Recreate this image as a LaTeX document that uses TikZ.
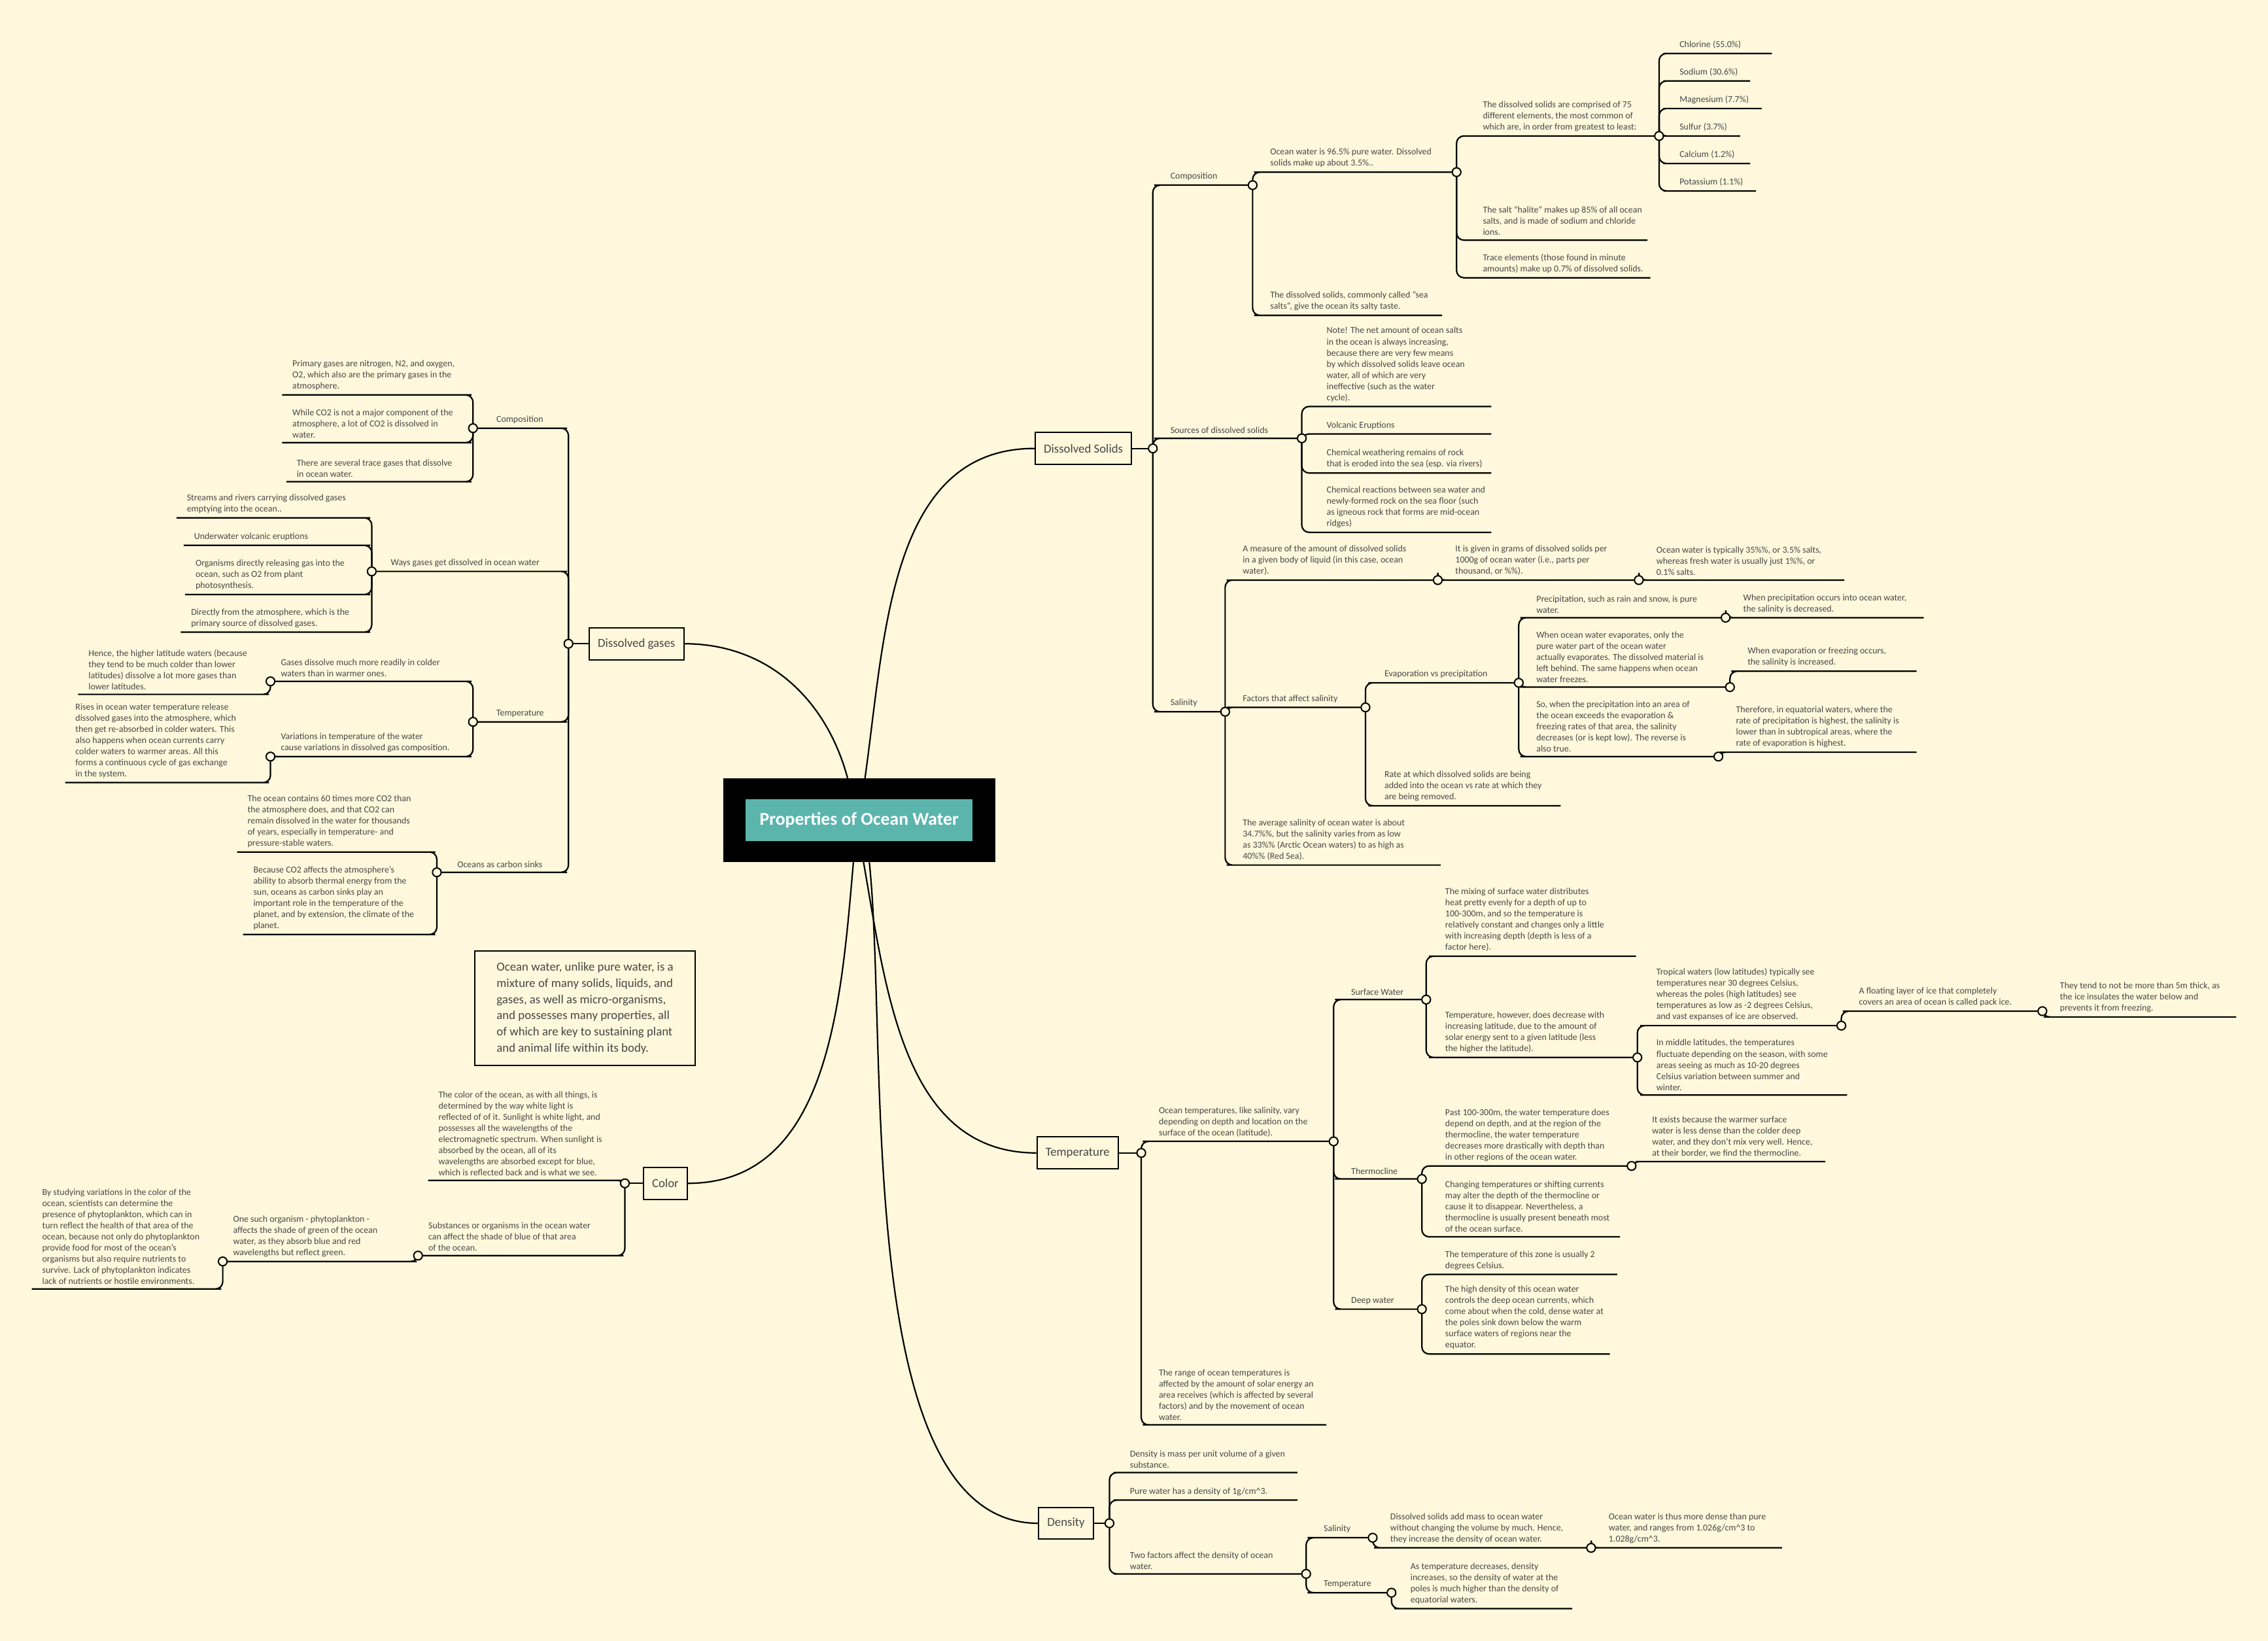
\documentclass[tikz,border=0pt]{standalone}
\usepackage{fontspec}
\setmainfont{Carlito}
\definecolor{paper}{HTML}{FFF8DC}
\definecolor{ink}{HTML}{474747}
\definecolor{teal}{HTML}{5BB5AD}
\tikzset{
  br/.style={line width=1pt,rounded corners=5pt},
  txt/.style={inner sep=0pt,align=left,text=ink,font=\fontsize{6.3}{7.7}\selectfont},
  topic/.style={draw,line width=0.9pt,fill=paper,minimum height=22pt,inner xsep=6pt,text=ink,font=\fontsize{8.5}{10}\selectfont},
  junc/.style={circle,draw,line width=0.9pt,fill=paper,inner sep=0pt,minimum size=6pt},
  main/.style={line width=1pt}
}
% right-hand branch: name, parent, start x, end x, y, text
\newcommand\rbr[6]{%
  \coordinate (#1-s) at (#3,#5);
  \coordinate (#1) at (#4,#5);
  \node[txt,anchor=south west] (#1-t) at (#3+6,#5-3) {#6};
  \draw[br] (#2) |- (#1-s) -- (#1);}
% left-hand branch: name, parent, start x, end x, y, text
\newcommand\lbr[6]{%
  \coordinate (#1) at (#3,#5);
  \coordinate (#1-s) at (#4,#5);
  \node[txt,anchor=south west] (#1-t) at (#3+7,#5-3) {#6};
  \draw[br] (#2) |- (#1-s) -- (#1);}
\begin{document}
\begin{tikzpicture}[x=1pt,y=-1pt]
\fill[paper] (0,0) rectangle (1568,1134.4);
\useasboundingbox (0,0) rectangle (1568,1134.4);

% root
\node[fill=black,minimum width=188pt,minimum height=58pt] (root) at (594,567) {};
\node[fill=teal,minimum width=157pt,minimum height=29pt,text=white,font=\fontsize{12.5}{14}\selectfont\bfseries] (title) at (594,567) {Properties of Ocean Water};
\coordinate (r-ds) at (598,538);
\coordinate (r-dg) at (586,538);
\coordinate (r-cl) at (590,596);
\coordinate (r-tp) at (597,596);
\coordinate (r-dn) at (601,596);

% main topics
\node[topic] (ds) at (749,310) {Dissolved Solids};
\node[topic] (tp) at (745,797) {Temperature};
\node[topic] (dn) at (737,1053) {Density};
\node[topic] (dg) at (440,445) {Dissolved gases};
\node[topic] (cl) at (460,818) {Color};
\draw[main] (r-ds) to[out=82,in=180] (ds.west);
\draw[main] (r-dg) to[out=105,in=0] (dg.east);
\draw[main] (r-cl) to[out=-95,in=0] (cl.east);
\draw[main] (r-tp) to[out=-80,in=180] (tp.west);
\draw[main] (r-dn) to[out=-84,in=180,looseness=0.7] (dn.west);
\coordinate (ds-j) at (797,310); \draw[br] (ds) -- (ds-j);
\coordinate (tp-j) at (789,797); \draw[br] (tp) -- (tp-j);
\coordinate (dn-j) at (767,1053); \draw[br] (dn) -- (dn-j);
\coordinate (dg-j) at (393,445); \draw[br] (dg) -- (dg-j);
\coordinate (cl-j) at (432,818); \draw[br] (cl) -- (cl-j);

% dissolved solids
\rbr{dsc}{ds-j}{803}{866}{128}{Composition}
\rbr{dsc1}{dsc}{872}{1007}{119}{Ocean water is 96.5\% pure water. Dissolved\\solids make up about 3.5\%..}
\rbr{dsc11}{dsc1}{1019}{1147}{94}{The dissolved solids are comprised of 75\\different elements, the most common of\\which are, in order from greatest to least:}
\rbr{el1}{dsc11}{1155}{1225}{37}{Chlorine (55.0\%)}
\rbr{el2}{dsc11}{1155}{1210}{56}{Sodium (30.6\%)}
\rbr{el3}{dsc11}{1155}{1218}{75}{Magnesium (7.7\%)}
\rbr{el4}{dsc11}{1155}{1203}{94}{Sulfur (3.7\%)}
\rbr{el5}{dsc11}{1155}{1210}{113}{Calcium (1.2\%)}
\rbr{el6}{dsc11}{1155}{1214}{132}{Potassium (1.1\%)}
\rbr{dsc12}{dsc1}{1019}{1139}{166}{The salt "halite" makes up 85\% of all ocean\\salts, and is made of sodium and chloride\\ions.}
\rbr{dsc13}{dsc1}{1019}{1141}{192}{Trace elements (those found in minute\\amounts) make up 0.7\% of dissolved solids.}
\rbr{dsc2}{dsc}{872}{997}{218}{The dissolved solids, commonly called "sea\\salts", give the ocean its salty taste.}
\rbr{dss}{ds-j}{803}{900}{303}{Sources of dissolved solids}
\rbr{dss1}{dss}{911}{1031}{281}{Note! The net amount of ocean salts\\in the ocean is always increasing,\\because there are very few means\\by which dissolved solids leave ocean\\water, all of which are very\\ineffective (such as the water\\cycle).}
\rbr{dss2}{dss}{911}{1031}{300}{Volcanic Eruptions}
\rbr{dss3}{dss}{911}{1031}{327}{Chemical weathering remains of rock\\that is eroded into the sea (esp. via rivers)}
\rbr{dss4}{dss}{911}{1031}{368}{Chemical reactions between sea water and\\newly-formed rock on the sea floor (such\\as igneous rock that forms are mid-ocean\\ridges)}
\rbr{dsl}{ds-j}{803}{847}{492}{Salinity}
\rbr{dsl1}{dsl}{853}{994}{401}{A measure of the amount of dissolved solids\\in a given body of liquid (in this case, ocean\\water).}
\rbr{dsl11}{dsl1}{1000}{1133}{401}{It is given in grams of dissolved solids per\\1000g of ocean water (i.e., parts per\\thousand, or \%\%).}
\rbr{dsl111}{dsl11}{1139}{1275}{401}{Ocean water is typically 35\%\%, or 3.5\% salts,\\whereas fresh water is usually just 1\%\%, or\\0.1\% salts.}
\rbr{dsl2}{dsl}{853}{944}{489}{Factors that affect salinity}
\rbr{dsl21}{dsl2}{951}{1050}{472}{Evaporation vs precipitation}
\rbr{ep1}{dsl21}{1056}{1193}{427}{Precipitation, such as rain and snow, is pure\\water.}
\rbr{ep11}{ep1}{1199}{1330}{427}{When precipitation occurs into ocean water,\\the salinity is decreased.}
\rbr{ep2}{dsl21}{1056}{1196}{475}{When ocean water evaporates, only the\\pure water part of the ocean water\\actually evaporates. The dissolved material is\\left behind. The same happens when ocean\\water freezes.}
\rbr{ep21}{ep2}{1202}{1325}{464}{When evaporation or freezing occurs,\\the salinity is increased.}
\rbr{ep3}{dsl21}{1056}{1188}{523}{So, when the precipitation into an area of\\the ocean exceeds the evaporation \&\\freezing rates of that area, the salinity\\decreases (or is kept low). The reverse is\\also true.}
\rbr{ep31}{ep3}{1194}{1325}{520}{Therefore, in equatorial waters, where the\\rate of precipitation is highest, the salinity is\\lower than in subtropical areas, where the\\rate of evaporation is highest.}
\rbr{dsl22}{dsl2}{951}{1079}{557}{Rate at which dissolved solids are being\\added into the ocean vs rate at which they\\are being removed.}
\rbr{dsl3}{dsl}{853}{996}{598}{The average salinity of ocean water is about\\34.7\%\%, but the salinity varies from as low\\as 33\%\% (Arctic Ocean waters) to as high as\\40\%\% (Red Sea).}

% temperature
\rbr{tp1}{tp-j}{795}{922}{789}{Ocean temperatures, like salinity, vary\\depending on depth and location on the\\surface of the ocean (latitude).}
\rbr{sw}{tp1}{928}{986}{691}{Surface Water}
\rbr{sw1}{sw}{993}{1131}{661}{The mixing of surface water distributes\\heat pretty evenly for a depth of up to\\100-300m, and so the temperature is\\relatively constant and changes only a little\\with increasing depth (depth is less of a\\factor here).}
\rbr{sw2}{sw}{993}{1132}{731}{Temperature, however, does decrease with\\increasing latitude, due to the amount of\\solar energy sent to a given latitude (less\\the higher the latitude).}
\rbr{sw21}{sw2}{1139}{1273}{709}{Tropical waters (low latitudes) typically see\\temperatures near 30 degrees Celsius,\\whereas the poles (high latitudes) see\\temperatures as low as -2 degrees Celsius,\\and vast expanses of ice are observed.}
\rbr{sw211}{sw21}{1279}{1412}{699}{A floating layer of ice that completely\\covers an area of ocean is called pack ice.}
\rbr{sw2111}{sw211}{1418}{1546}{703}{They tend to not be more than 5m thick, as\\the ice insulates the water below and\\prevents it from freezing.}
\rbr{sw22}{sw2}{1139}{1277}{757}{In middle latitudes, the temperatures\\fluctuate depending on the season, with some\\areas seeing as much as 10-20 degrees\\Celsius variation between summer and\\winter.}
\rbr{th}{tp1}{928}{983}{815}{Thermocline}
\rbr{th1}{th}{993}{1128}{806}{Past 100-300m, the water temperature does\\depend on depth, and at the region of the\\thermocline, the water temperature\\decreases more drastically with depth than\\in other regions of the ocean water.}
\rbr{th11}{th1}{1136}{1262}{803}{It exists because the warmer surface\\water is less dense than the colder deep\\water, and they don't mix very well. Hence,\\at their border, we find the thermocline.}
\rbr{th2}{th}{993}{1120}{855}{Changing temperatures or shifting currents\\may alter the depth of the thermocline or\\cause it to disappear. Nevertheless, a\\thermocline is usually present beneath most\\of the ocean surface.}
\rbr{dw}{tp1}{928}{983}{905}{Deep water}
\rbr{dw1}{dw}{993}{1118}{881}{The temperature of this zone is usually 2\\degrees Celsius.}
\rbr{dw2}{dw}{993}{1113}{936}{The high density of this ocean water\\controls the deep ocean currents, which\\come about when the cold, dense water at\\the poles sink down below the warm\\surface waters of regions near the\\equator.}
\rbr{tp2}{tp-j}{795}{917}{985}{The range of ocean temperatures is\\affected by the amount of solar energy an\\area receives (which is affected by several\\factors) and by the movement of ocean\\water.}

% density
\rbr{dn1}{dn-j}{775}{897}{1018}{Density is mass per unit volume of a given\\substance.}
\rbr{dn2}{dn-j}{775}{897}{1037}{Pure water has a density of 1g/cm\textasciicircum3.}
\rbr{dn3}{dn-j}{775}{903}{1088}{Two factors affect the density of ocean\\water.}
\rbr{dn31}{dn3}{909}{949}{1063}{Salinity}
\rbr{dn311}{dn31}{955}{1100}{1070}{Dissolved solids add mass to ocean water\\without changing the volume by much. Hence,\\they increase the density of ocean water.}
\rbr{dn3111}{dn311}{1106}{1232}{1070}{Ocean water is thus more dense than pure\\water, and ranges from 1.026g/cm\textasciicircum3 to\\1.028g/cm\textasciicircum3.}
\rbr{dn32}{dn3}{909}{962}{1101}{Temperature}
\rbr{dn321}{dn32}{969}{1087}{1112}{As temperature decreases, density\\increases, so the density of water at the\\poles is much higher than the density of\\equatorial waters.}

% dissolved gases
\lbr{dgc}{dg-j}{327}{387}{296}{\hspace{9pt}Composition}
\lbr{dgc1}{dgc}{195}{321}{273}{Primary gases are nitrogen, N2, and oxygen,\\O2, which also are the primary gases in the\\atmosphere.}
\lbr{dgc2}{dgc}{195}{321}{306}{While CO2 is not a major component of the\\atmosphere, a lot of CO2 is dissolved in\\water.}
\lbr{dgc3}{dgc}{198}{321}{333}{There are several trace gases that dissolve\\in ocean water.}
\lbr{dgw}{dg-j}{257}{387}{395}{\hspace{6pt}Ways gases get dissolved in ocean water}
\lbr{dgw1}{dgw}{122}{251}{358}{Streams and rivers carrying dissolved gases\\emptying into the ocean..}
\lbr{dgw2}{dgw}{127}{251}{377}{Underwater volcanic eruptions}
\lbr{dgw3}{dgw}{128}{251}{411}{Organisms directly releasing gas into the\\ocean, such as O2 from plant\\photosynthesis.}
\lbr{dgw4}{dgw}{125}{251}{437}{Directly from the atmosphere, which is the\\primary source of dissolved gases.}
\lbr{dgt}{dg-j}{327}{387}{499}{\hspace{9pt}Temperature}
\lbr{dgt1}{dgt}{187}{321}{471}{Gases dissolve much more readily in colder\\waters than in warmer ones.}
\lbr{dgt11}{dgt1}{54}{181}{480}{Hence, the higher latitude waters (because\\they tend to be much colder than lower\\latitudes) dissolve a lot more gases than\\lower latitudes.}
\lbr{dgt2}{dgt}{187}{321}{523}{Variations in temperature of the water\\cause variations in dissolved gas composition.}
\lbr{dgt21}{dgt2}{45}{181}{541}{Rises in ocean water temperature release\\dissolved gases into the atmosphere, which\\then get re-absorbed in colder waters. This\\also happens when ocean currents carry\\colder waters to warmer areas. All this\\forms a continuous cycle of gas exchange\\in the system.}
\lbr{dgo}{dg-j}{302}{387}{603}{\hspace{7pt}Oceans as carbon sinks}
\lbr{dgo1}{dgo}{164}{296}{589}{The ocean contains 60 times more CO2 than\\the atmosphere does, and that CO2 can\\remain dissolved in the water for thousands\\of years, especially in temperature- and\\pressure-stable waters.}
\lbr{dgo2}{dgo}{168}{296}{646}{Because CO2 affects the atmosphere's\\ability to absorb thermal energy from the\\sun, oceans as carbon sinks play an\\important role in the temperature of the\\planet, and by extension, the climate of the\\planet.}

% color
\lbr{cl1}{cl-j}{296}{426}{816}{The color of the ocean, as with all things, is\\determined by the way white light is\\reflected of of it. Sunlight is white light, and\\possesses all the wavelengths of the\\electromagnetic spectrum. When sunlight is\\absorbed by the ocean, all of its\\wavelengths are absorbed except for blue,\\which is reflected back and is what we see.}
\lbr{cl2}{cl-j}{289}{426}{868}{Substances or organisms in the ocean water\\can affect the shade of blue of that area\\of the ocean.}
\lbr{cl21}{cl2}{154}{283}{872}{One such organism - phytoplankton -\\affects the shade of green of the ocean\\water, as they absorb blue and red\\wavelengths but reflect green.}
\lbr{cl211}{cl21}{22}{148}{891}{By studying variations in the color of the\\ocean, scientists can determine the\\presence of phytoplankton, which can in\\turn reflect the health of that area of the\\ocean, because not only do phytoplankton\\provide food for most of the ocean's\\organisms but also require nutrients to\\survive. Lack of phytoplankton indicates\\lack of nutrients or hostile environments.}

% junction circles
\foreach \j in {ds-j,dsc,dsc1,dsc11,dss,dsl,dsl1,dsl11,dsl2,dsl21,ep1,ep2,ep3,
  tp-j,tp1,sw,sw2,sw21,sw211,th,th1,dw,dn-j,dn3,dn31,dn311,dn32,
  dg-j,dgc,dgw,dgt,dgt1,dgt2,dgo,cl-j,cl2,cl21}
  \node[junc] at (\j) {};

% floating note
\node[draw,line width=0.9pt,fill=paper,minimum width=152pt,minimum height=79pt,inner xsep=8pt,align=left,text=ink,anchor=north west,font=\fontsize{8.5}{11.3}\selectfont] (note) at (328,657) {Ocean water, unlike pure water, is a\\mixture of many solids, liquids, and\\gases, as well as micro-organisms,\\and possesses many properties, all\\of which are key to sustaining plant\\and animal life within its body.};
\end{tikzpicture}
\end{document}
